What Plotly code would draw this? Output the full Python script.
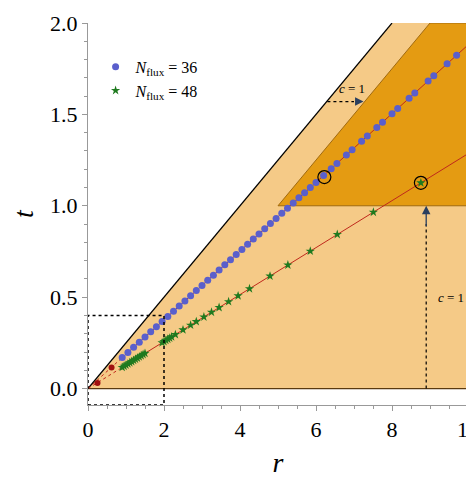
import plotly.graph_objects as go

blue_r = [0.9,1.05,1.2,1.35,1.5,1.65,1.8,1.95,2.1,2.25,2.4,2.55,2.7,2.85,3.0,3.15,3.3,3.45,3.6,3.75,3.9,4.05,4.2,4.35,4.5,4.65,4.8,4.95,5.1,5.25,5.4,5.55,5.7,5.85,6.0,6.2,6.4,6.55,6.8,6.95,7.2,7.35,7.6,7.75,8.0,8.15,8.45,8.6,8.95,9.1,9.45,9.7]
blue_slope = 0.188
green_r = [0.9,0.95,1.0,1.05,1.1,1.15,1.2,1.25,1.3,1.35,1.4,1.45,1.5,1.95,2.0,2.05,2.1,2.15,2.2,2.3,2.5,2.7,2.85,3.05,3.25,3.45,3.7,3.95,4.25,4.79,5.26,5.85,6.56,7.51,8.76]
green_slope = 0.1285
red_r = [0.25, 0.62]
red_t = [0.03, 0.115]
circ_r = [6.22, 8.76]
circ_t = [6.22*0.186, 8.76*0.1285]

fig = go.Figure()
fig.add_trace(go.Scatter(x=[0,8,10,10,0], y=[0,2,2,0,0], fill="toself", fillcolor="#f5ca87",
                         line=dict(color="rgba(0,0,0,0)"), mode="lines", showlegend=False, hoverinfo="skip"))
fig.add_trace(go.Scatter(x=[0,8], y=[0,2], mode="lines", line=dict(color="black", width=1.2), showlegend=False))
fig.add_trace(go.Scatter(x=[0,10], y=[0,0], mode="lines", line=dict(color="#5a3a10", width=1.2), showlegend=False))
fig.add_trace(go.Scatter(x=[5,10,10,9,5], y=[1,1,2,2,1], fill="toself", fillcolor="#e49b12",
                         line=dict(color="#a06a10", width=1), mode="lines", showlegend=False, hoverinfo="skip"))
fig.add_trace(go.Scatter(x=[0.9,10], y=[0.9*blue_slope,10*blue_slope], mode="lines", line=dict(color="#c0281c", width=1), showlegend=False))
fig.add_trace(go.Scatter(x=[0.9,10], y=[0.9*green_slope,10*green_slope], mode="lines", line=dict(color="#c0281c", width=1), showlegend=False))
fig.add_trace(go.Scatter(x=[0,0.9], y=[0,0.9*blue_slope], mode="lines", line=dict(color="#c0281c", width=1, dash="dot"), showlegend=False))
fig.add_trace(go.Scatter(x=[0,0.9], y=[0,0.9*green_slope], mode="lines", line=dict(color="#c0281c", width=1, dash="dot"), showlegend=False))
fig.add_trace(go.Scatter(x=blue_r, y=[r*blue_slope for r in blue_r], mode="markers",
                         marker=dict(color="#5a5fcc", size=7), name="<i>N</i><sub>flux</sub> = 36"))
fig.add_trace(go.Scatter(x=green_r, y=[r*green_slope for r in green_r], mode="markers",
                         marker=dict(color="#1f7a1f", size=7, symbol="star"), name="<i>N</i><sub>flux</sub> = 48"))
fig.add_trace(go.Scatter(x=red_r, y=red_t, mode="markers", marker=dict(color="#a01010", size=6), showlegend=False))
fig.add_trace(go.Scatter(x=circ_r, y=circ_t, mode="markers",
                         marker=dict(color="rgba(0,0,0,0)", size=13, line=dict(color="black", width=1.2)), showlegend=False))
fig.add_trace(go.Scatter(x=[0,2,2,0,0], y=[-0.09,-0.09,0.4,0.4,-0.09], mode="lines",
                         line=dict(color="black", width=1.5, dash="dot"), showlegend=False))
fig.add_trace(go.Scatter(x=[6.3,7.0], y=[1.57,1.57], mode="lines", line=dict(color="black", width=1.2, dash="dot"), showlegend=False))
fig.add_trace(go.Scatter(x=[8.9,8.9], y=[0,0.9], mode="lines", line=dict(color="black", width=1.2, dash="dot"), showlegend=False))
fig.add_annotation(x=7.25, y=1.57, ax=7.0, ay=1.57, xref="x", yref="y", axref="x", ayref="y",
                   showarrow=True, arrowhead=2, arrowsize=1.3, arrowwidth=1.3, text="")
fig.add_annotation(x=8.9, y=1.0, ax=8.9, ay=0.88, xref="x", yref="y", axref="x", ayref="y",
                   showarrow=True, arrowhead=2, arrowsize=1.3, arrowwidth=1.3, text="")
fig.add_annotation(x=6.95, y=1.64, text="<i>c</i> = 1", showarrow=False, font=dict(size=13))
fig.add_annotation(x=9.55, y=0.5, text="<i>c</i> = 1", showarrow=False, font=dict(size=13))

fig.update_layout(
    width=474, height=478, margin=dict(l=80, r=14, t=15, b=81),
    plot_bgcolor="white", paper_bgcolor="white",
    font=dict(family="Liberation Serif, DejaVu Serif, serif", size=22, color="black"),
    legend=dict(x=0.02, y=0.93, xanchor="left", yanchor="top", bgcolor="rgba(0,0,0,0)", font=dict(size=16)),
    xaxis=dict(range=[0,10], tickvals=[0,2,4,6,8,10], showgrid=False, zeroline=False, automargin=False,
               showline=True, linecolor="#999", ticks="outside", ticklen=5, tickcolor="#999",
               minor=dict(ticks="outside", ticklen=3, tickcolor="#999", dtick=0.5),
               title=dict(text="<i>r</i>", font=dict(size=28), standoff=10)),
    yaxis=dict(range=[-0.09,2.0], tickvals=[0,0.5,1,1.5,2], ticktext=["0.0","0.5","1.0","1.5","2.0"],
               showgrid=False, zeroline=False, showline=True, linecolor="#999", ticks="outside",
               ticklen=5, tickcolor="#999", automargin=False,
               minor=dict(ticks="outside", ticklen=3, tickcolor="#999", dtick=0.1),
               title=dict(text="<i>t</i>", font=dict(size=28), standoff=10)),
)
fig.write_html("out.html")
